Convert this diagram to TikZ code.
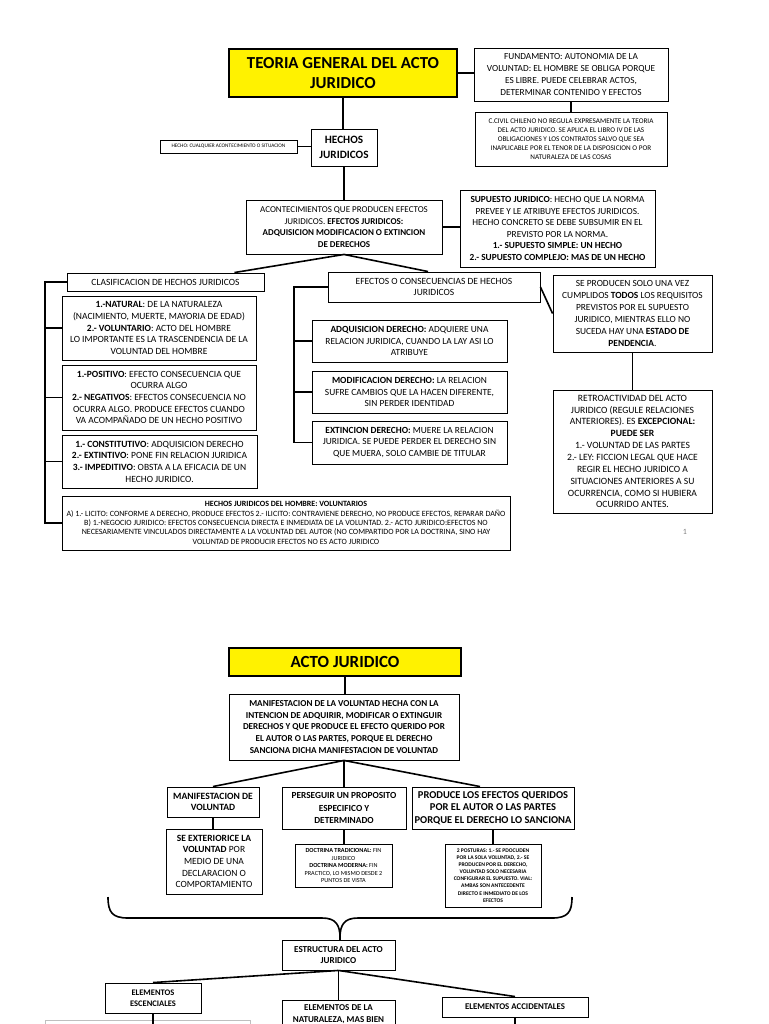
\documentclass[tikz,border=0pt]{standalone}
\usepackage{fontspec}
\setmainfont{Carlito}
\begin{document}
\begin{tikzpicture}[x=1pt,y=-1pt,
 box/.style={draw, line width=0.9pt, align=center, inner sep=1pt},
 fs/.style 2 args={font=\fontsize{#1}{#2}\selectfont},
 bfs/.style 2 args={font=\fontsize{#1}{#2}\selectfont\bfseries},
 conn/.style={line width=1.6pt},
]
\useasboundingbox (0,0) rectangle (768,1024);
\clip (0,0) rectangle (768,1024);
% ---------- Section 1 ----------
\node[box, fill=yellow, line width=1.2pt, minimum width=228pt, minimum height=48pt, bfs={16.8}{20}] (title) at (343,73) {TEORIA GENERAL DEL ACTO\\JURIDICO};
\node[box, minimum width=194pt, minimum height=53pt, fs={9.3}{11.7}] (fund) at (571,74.5) {FUNDAMENTO: AUTONOMIA DE LA\\VOLUNTAD: EL HOMBRE SE OBLIGA PORQUE\\ES LIBRE. PUEDE CELEBRAR ACTOS,\\DETERMINAR CONTENIDO Y EFECTOS};
\node[box, minimum width=192pt, minimum height=54pt, fs={7.2}{9}] (ccivil) at (571,139.5) {C.CIVIL CHILENO NO REGULA EXPRESAMENTE LA TEORIA\\DEL ACTO JURIDICO. SE APLICA EL LIBRO IV DE LAS\\OBLIGACIONES Y LOS CONTRATOS SALVO QUE SEA\\INAPLICABLE POR EL TENOR DE LA DISPOSICION O POR\\NATURALEZA DE LAS COSAS};
\node[box, minimum width=66pt, minimum height=37pt, bfs={11.2}{14.5}] (hechos) at (344,147.5) {HECHOS\\JURIDICOS};
\node[box, minimum width=137pt, minimum height=13pt, fs={5.3}{6}] (small) at (228.5,146.5) {HECHO: CUALQUIER ACONTECIMIENTO O SITUACION};
\node[box, minimum width=196pt, minimum height=54pt, fs={9}{11.7}] (acont) at (344,227) {ACONTECIMIENTOS QUE PRODUCEN EFECTOS\\JURIDICOS. \textbf{EFECTOS JURIDICOS:}\\\textbf{ADQUISICION MODIFICACION O EXTINCION}\\\textbf{DE DERECHOS}};
\node[box, minimum width=195pt, minimum height=77pt, fs={9.3}{11.6}] (supuesto) at (557.5,228.5) {\textbf{SUPUESTO JURIDICO}: HECHO QUE LA NORMA\\PREVEE Y LE ATRIBUYE EFECTOS JURIDICOS.\\HECHO CONCRETO SE DEBE SUBSUMIR EN EL\\PREVISTO POR LA NORMA.\\\textbf{1.- SUPUESTO SIMPLE: UN HECHO}\\\textbf{2.- SUPUESTO COMPLEJO: MAS DE UN HECHO}};
\node[box, minimum width=197pt, minimum height=18pt, fs={9.5}{11}] (clasif) at (165.5,282) {CLASIFICACION DE HECHOS JURIDICOS};
\node[box, minimum width=194pt, minimum height=64pt, fs={9.5}{11.7}] (natural) at (159,328) {\textbf{1.-NATURAL}: DE LA NATURALEZA\\(NACIMIENTO, MUERTE, MAYORIA DE EDAD)\\\textbf{2.- VOLUNTARIO}: ACTO DEL HOMBRE\\LO IMPORTANTE ES LA TRASCENDENCIA DE LA\\VOLUNTAD DEL HOMBRE};
\node[box, minimum width=194pt, minimum height=65pt, fs={9.5}{11.7}] (positive) at (159,397.5) {\textbf{1.-POSITIVO}: EFECTO CONSECUENCIA QUE\\OCURRA ALGO\\\textbf{2.- NEGATIVOS}: EFECTOS CONSECUENCIA NO\\OCURRA ALGO. PRODUCE EFECTOS CUANDO\\VA ACOMPAÑADO DE UN HECHO POSITIVO};
\node[box, minimum width=195pt, minimum height=53pt, fs={9.5}{11.7}] (constit) at (159.5,461.5) {\textbf{1.- CONSTITUTIVO}: ADQUISICION DERECHO\\\textbf{2.- EXTINTIVO}: PONE FIN RELACION JURIDICA\\\textbf{3.- IMPEDITIVO}: OBSTA A LA EFICACIA DE UN\\HECHO JURIDICO.};
\node[box, minimum width=448pt, minimum height=54pt, fs={8}{9.3}] (volunt) at (286,523) {\textbf{HECHOS JURIDICOS DEL HOMBRE: VOLUNTARIOS}\\A) 1.- LICITO: CONFORME A DERECHO, PRODUCE EFECTOS 2.- ILICITO: CONTRAVIENE DERECHO, NO PRODUCE EFECTOS, REPARAR DAÑO\\B) 1.-NEGOCIO JURIDICO: EFECTOS CONSECUENCIA DIRECTA E INMEDIATA DE LA VOLUNTAD. 2.- ACTO JURIDICO:EFECTOS NO\\NECESARIAMENTE VINCULADOS DIRECTAMENTE A LA VOLUNTAD DEL AUTOR (NO COMPARTIDO POR LA DOCTRINA, SINO HAY\\VOLUNTAD DE PRODUCIR EFECTOS NO ES ACTO JURIDICO};
\node[box, minimum width=212pt, minimum height=30pt, fs={9.5}{11.5}] (efectos) at (434,287) {EFECTOS O CONSECUENCIAS DE HECHOS\\JURIDICOS};
\node[box, minimum width=195pt, minimum height=42pt, fs={9.4}{11.5}] (adq) at (409.5,341) {\textbf{ADQUISICION DERECHO:} ADQUIERE UNA\\RELACION JURIDICA, CUANDO LA LAY ASI LO\\ATRIBUYE};
\node[box, minimum width=195pt, minimum height=42pt, fs={9.4}{11.5}] (modif) at (409.5,392) {\textbf{MODIFICACION DERECHO:} LA RELACION\\SUFRE CAMBIOS QUE LA HACEN DIFERENTE,\\SIN PERDER IDENTIDAD};
\node[box, minimum width=195pt, minimum height=43pt, fs={9.4}{11.5}] (extinc) at (409.5,442.5) {\textbf{EXTINCION DERECHO:} MUERE LA RELACION\\JURIDICA. SE PUEDE PERDER EL DERECHO SIN\\QUE MUERA, SOLO CAMBIE DE TITULAR};
\node[box, minimum width=159pt, minimum height=77pt, fs={9.4}{12}] (senode) at (632.5,313.5) {SE PRODUCEN SOLO UNA VEZ\\CUMPLIDOS \textbf{TODOS} LOS REQUISITOS\\PREVISTOS POR EL SUPUESTO\\JURIDICO, MIENTRAS ELLO NO\\SUCEDA HAY UNA \textbf{ESTADO DE}\\\textbf{PENDENCIA}.};
\node[box, minimum width=159pt, minimum height=123pt, fs={9.6}{11.85}] (retro) at (632.5,451.5) {RETROACTIVIDAD DEL ACTO\\JURIDICO (REGULE RELACIONES\\ANTERIORES). ES \textbf{EXCEPCIONAL:}\\\textbf{PUEDE SER}\\1.- VOLUNTAD DE LAS PARTES\\2.- LEY: FICCION LEGAL QUE HACE\\REGIR EL HECHO JURIDICO A\\SITUACIONES ANTERIORES A SU\\OCURRENCIA, COMO SI HUBIERA\\OCURRIDO ANTES.};
\node[text=gray, fs={8}{10}] (pnum) at (685,532) {1};
% connectors section 1
\draw[conn] (title.east) -- (title.east -| fund.west);
\draw[conn] (fund.south) -- (ccivil.north);
\draw[conn] (title.south) -- (title.south |- hechos.north);
\draw[conn] (small.east) -- (small.east -| hechos.west);
\draw[conn] (hechos.south) -- (hechos.south |- acont.north);
\draw[conn] (acont.east) -- (acont.east -| supuesto.west);
\draw[conn] (acont.south) -- ([xshift=69pt]clasif.north);
\draw[conn] (acont.south) -- ([xshift=-6pt]efectos.north);
\draw[conn] (efectos.east) -- (senode.west);
\draw[conn] (senode.south) -- (retro.north);
\coordinate (lb) at (45,0);
\draw[conn] (clasif.west) -- (clasif.west -| lb) -- (lb |- volunt.west) -- (volunt.west);
\foreach \n in {natural,positive,constit} \draw[conn] (lb |- \n.west) -- (\n.west);
\coordinate (mb) at (294,0);
\draw[conn] (efectos.west) -- (efectos.west -| mb) -- (mb |- extinc.west) -- (extinc.west);
\foreach \n in {adq,modif} \draw[conn] (mb |- \n.west) -- (\n.west);
% ---------- Section 2 ----------
\node[box, fill=yellow, line width=1.2pt, minimum width=232pt, minimum height=28pt, bfs={17}{19}] (acto) at (345,662) {ACTO JURIDICO};
\node[box, minimum width=230pt, minimum height=66pt, bfs={9.1}{11.7}] (def) at (344,727) {MANIFESTACION DE LA VOLUNTAD HECHA CON LA\\INTENCION DE ADQUIRIR, MODIFICAR O EXTINGUIR\\DERECHOS Y QUE PRODUCE EL EFECTO QUERIDO POR\\EL AUTOR O LAS PARTES, PORQUE EL DERECHO\\SANCIONA DICHA MANIFESTACION DE VOLUNTAD};
\node[box, minimum width=92pt, minimum height=30pt, bfs={9.6}{11.5}] (manif) at (213,802) {MANIFESTACION DE\\VOLUNTAD};
\node[box, minimum width=124pt, minimum height=42pt, bfs={9.3}{12.5}] (perseg) at (344,808) {PERSEGUIR UN PROPOSITO\\ESPECIFICO Y\\DETERMINADO};
\node[box, minimum width=162pt, minimum height=42pt, bfs={10.5}{12.5}] (produce) at (493,808) {PRODUCE LOS EFECTOS QUERIDOS\\POR EL AUTOR O LAS PARTES\\PORQUE EL DERECHO LO SANCIONA};
\node[box, minimum width=96pt, minimum height=65pt, fs={9.5}{11.7}] (exter) at (214,861.5) {\textbf{SE EXTERIORICE LA}\\\textbf{VOLUNTAD} POR\\MEDIO DE UNA\\DECLARACION O\\COMPORTAMIENTO};
\node[box, minimum width=97pt, minimum height=43pt, fs={6.2}{7.5}] (doctrina) at (343.5,865.5) {\textbf{DOCTRINA TRADICIONAL:} FIN\\JURIDICO\\\textbf{DOCTRINA MODERNA:} FIN\\PRACTICO, LO MISMO DESDE 2\\PUNTOS DE VISTA};
\node[box, minimum width=96pt, minimum height=63pt, bfs={5.6}{7.1}] (posturas) at (493,875.5) {2 POSTURAS: 1.- SE PDOCUDEN\\POR LA SOLA VOLUNTAD, 2.- SE\\PRODUCEN POR EL DERECHO,\\VOLUNTAD SOLO NECESARIA\\CONFIGURAR EL SUPUESTO. VIAL:\\AMBAS SON ANTECEDENTE\\DIRECTO E INMEDIATO DE LOS\\EFECTOS};
\node[box, minimum width=113pt, minimum height=30pt, bfs={9.1}{11.7}] (estruct) at (338.5,955) {ESTRUCTURA DEL ACTO\\JURIDICO};
\node[box, minimum width=96pt, minimum height=30pt, bfs={8.5}{11.5}] (escen) at (153,998) {ELEMENTOS\\ESCENCIALES};
\node[box, minimum width=113pt, anchor=north, inner ysep=4pt, bfs={9}{11.7}] (natur) at (338.5,1000) {ELEMENTOS DE LA\\NATURALEZA, MAS BIEN\\\phantom{X}};
\node[box, minimum width=146pt, minimum height=20pt, bfs={8.8}{11}] (accid) at (515,1007) {ELEMENTOS ACCIDENTALES};
\node[draw=gray!50, line width=0.8pt, minimum width=205pt, minimum height=40pt, anchor=north west] (greybox) at (45,1020) {};
% connectors section 2
\draw[conn] (acto.south) -- (acto.south |- def.north);
\draw[conn] (def.south) -- (manif.north);
\draw[conn] (def.south) -- (def.south |- perseg.north);
\draw[conn] (def.south) -- ([xshift=-13pt]produce.north);
\draw[conn] (manif.south) -- (manif.south |- exter.north);
\draw[conn] (perseg.south) -- (perseg.south |- doctrina.north);
\draw[conn] (produce.south) -- (produce.south |- posturas.north);
\coordinate (bl) at (108,897);
\coordinate (br) at (572,897);
\coordinate (bt) at (340,938);
\draw[conn] (bl) .. controls (108,912) and (112,918) .. (128,918) -- (322,918) .. controls (336,918) and (340,925) .. (bt);
\draw[conn] (bt) .. controls (340,925) and (344,918) .. (358,918) -- (552,918) .. controls (568,918) and (572,912) .. (br);
\draw[conn] (bt) -- (bt |- estruct.north);
\draw[conn] (estruct.south) -- (escen.north);
\draw[conn] (estruct.south) -- (estruct.south |- natur.north);
\draw[conn] (estruct.south) -- (accid.north);
\coordinate (escend) at (153,1040);
\coordinate (accend) at (515,1040);
\draw[conn] (escen.south) -- (escend);
\draw[conn] (accid.south) -- (accend);
\end{tikzpicture}
\end{document}
